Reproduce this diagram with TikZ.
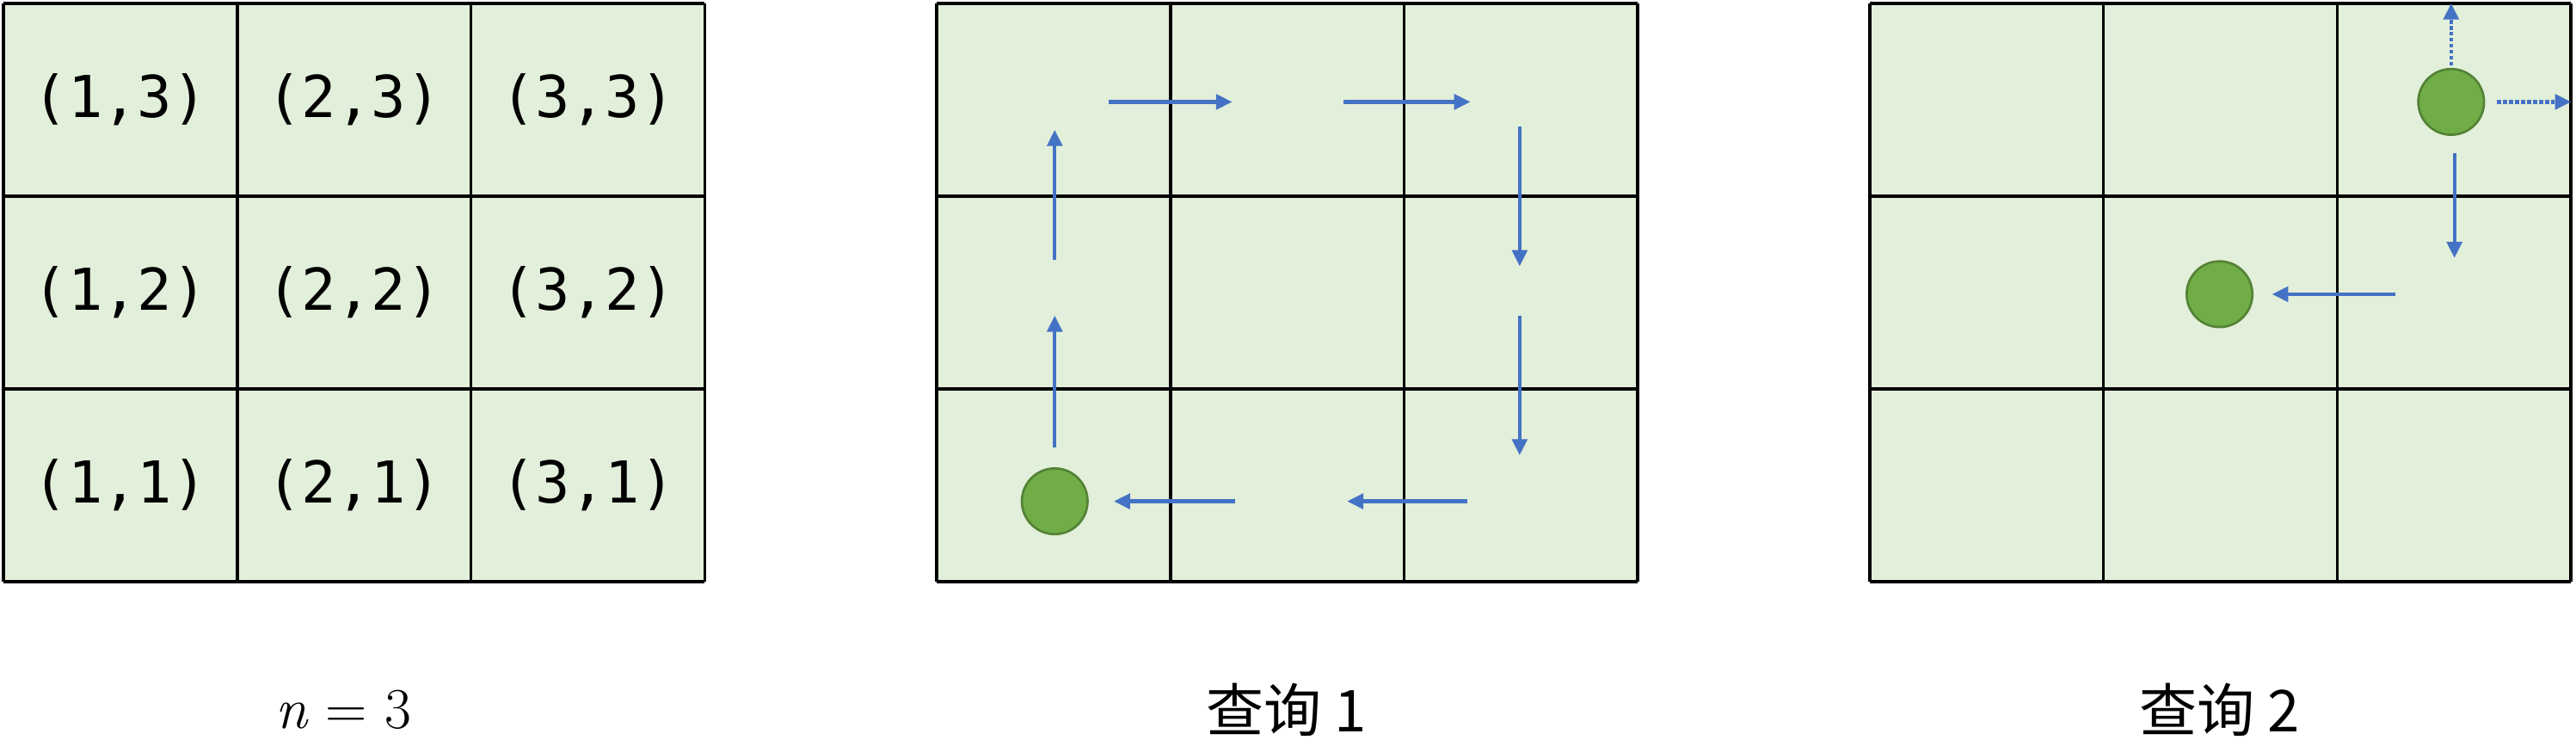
\documentclass[tikz,border=0pt]{standalone}
\usepackage{fontspec}
\setmonofont{DejaVu Sans Mono}
\newfontfamily\cjk{Noto Sans CJK SC}
\usetikzlibrary{arrows.meta}
\definecolor{cellg}{HTML}{E2EFDA}
\definecolor{arrb}{HTML}{4472C4}
\definecolor{dotg}{HTML}{70AD47}
\definecolor{dotb}{HTML}{548235}
\begin{document}
\begin{tikzpicture}[x=0.05cm,y=-0.05cm,
  gridl/.style={draw=black,line width=2.8pt},
  arr/.style={draw=arrb,line width=3.2pt,-{Triangle[length=14pt,width=13pt]}},
  darr/.style={arr,dotted},
  dot/.style={circle,fill=dotg,draw=dotb,line width=2pt,minimum size=40*0.05cm,inner sep=0pt},
  celltxt/.style={font=\fontsize{50}{60}\selectfont\ttfamily},
  lab/.style={font=\fontsize{50}{60}\selectfont}]
\useasboundingbox (0,0) rectangle (1568,450);
\foreach \x in {2,570,1138}{
  \fill[cellg] (\x,2) rectangle ++(427,352);
  \foreach \i in {0,1,2,3}{
    \draw[gridl] (\x+\i*142.33,2) -- (\x+\i*142.33,354);
    \draw[gridl] (\x,2+\i*117.33) -- (\x+427,2+\i*117.33);
  }
}
\foreach \c in {1,2,3}{\foreach \r in {1,2,3}{
  \node[celltxt] (c\c\r) at ({2+(\c-0.5)*142.33},{354-(\r-0.5)*117.33}) {(\c,\r)};
}}
\node[lab] (l1) at (209,432) {\textit{n} = 3};
\node[lab] (l2) at (783,432) {\cjk 查询 1};
\node[lab] (l3) at (1351,432) {\cjk 查询 2};
% grid 2
\node[dot] (d1) at (642,305) {};
\coordinate (a1) at (642,272); \coordinate (a2) at (642,192);
\coordinate (a3) at (642,158); \coordinate (a4) at (642,79);
\coordinate (b1) at (675,62); \coordinate (b2) at (750,62);
\coordinate (b3) at (818,62); \coordinate (b4) at (895,62);
\coordinate (e1) at (925,77); \coordinate (e2) at (925,162);
\coordinate (e3) at (925,192); \coordinate (e4) at (925,277);
\coordinate (f1) at (893,305); \coordinate (f2) at (820,305);
\coordinate (f3) at (752,305); \coordinate (f4) at (678,305);
\draw[arr] (a1) -- (a2); \draw[arr] (a3) -- (a4);
\draw[arr] (b1) -- (b2); \draw[arr] (b3) -- (b4);
\draw[arr] (e1) -- (e2); \draw[arr] (e3) -- (e4);
\draw[arr] (f1) -- (f2); \draw[arr] (f3) -- (f4);
% grid 3
\node[dot] (d2) at (1492,62) {};
\node[dot] (d3) at (1351,179) {};
\coordinate (u1) at (1492,40); \coordinate (u2) at (1492,2);
\coordinate (r1) at (1520,62); \coordinate (r2) at (1565,62);
\coordinate (s1) at (1494,93); \coordinate (s2) at (1494,157);
\coordinate (t1) at (1458,179); \coordinate (t2) at (1383,179);
\draw[darr] (u1) -- (u2); \draw[darr] (r1) -- (r2);
\draw[arr] (s1) -- (s2); \draw[arr] (t1) -- (t2);
\end{tikzpicture}
\end{document}
